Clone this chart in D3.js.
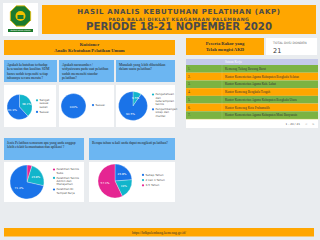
<!DOCTYPE html>
<html>
<head>
<meta charset="utf-8">
<script src="https://cdn.jsdelivr.net/npm/d3@7"></script>
<style>
  html, body { margin: 0; padding: 0; background: #e9ecef; }
  svg { display: block; }
</style>
</head>
<body>
<svg id="chart" width="320" height="240"></svg>
<script>
// question texts
const questions = [
  'Apakah kebutuhan terhadap kesesuaian dan kualitas SDM harus sudah terpenuhi setiap tahunnya secara merata ?',
  'Apakah narasumber / widyaiswara pada saat pelatihan sudah memenuhi standar pelatihan?',
  'Manakah yang lebih dibutuhkan dalam suatu pelatihan?',
  'Jenis Pelatihan semacam apa yang anda anggap lebih efektif kemanfaatan dan aplikasi ?',
  'Berapa tahun sekali anda dapat mengikuti pelatihan?'
];

// answers + counts (21 respondents)
const q1Labels = ['Sangat sesuai sekali', 'Sesuai'];
const q1Values = [8, 13];
const q1Colors = ['#12b5cb', '#1a73e8'];
const q2Labels = ['Sesuai'];
const q2Values = [21];
const q2Colors = ['#1a73e8'];
const q3Labels = ['Pengetahuan dan keterampilan teknis', 'Pengembangan sikap dan mental'];
const q3Values = [2, 19];
const q3Colors = ['#12b5cb', '#1a73e8'];
const q4Labels = ['Pelatihan Teknis Subs', 'Pelatihan Teknis Admin dan Manajemen', 'Pelatihan Di Tempat Kerja'];
const q4Values = [1, 5, 15];
const q4Colors = ['#e52592', '#12b5cb', '#1a73e8'];
const q5Labels = ['Setiap Tahun', '2 kali 1 Tahun', '3-5 Tahun'];
const q5Values = [5, 4, 12];
const q5Colors = ['#1a73e8', '#12b5cb', '#e52592'];

// participants table
const satkerRows = [
  'Kemenag Tulang Bawang Barat',
  'Kantor Kementerian Agama Kabupaten Bengkulu Selatan',
  'Kantor Kementerian Agama Kab. Lahat',
  'Kantor Kemenag Bengkulu Tengah',
  'Kantor Kementerian Agama Kabupaten Bengkulu Utara',
  'Kantor Kemenag Kota Prabumulih',
  'Kantor Kementerian Agama Kabupaten Musi Banyuasin'
];
const totalResponden = 21;

const svg = d3.select('#chart');
const orange = '#ffa600';
const serif = 'Liberation Serif, DejaVu Serif, serif';
const sans = 'DejaVu Sans, Liberation Sans, sans-serif';

// ---- header ----
svg.append('rect').attr('x', 3).attr('y', 3).attr('width', 35).attr('height', 33).attr('fill', '#fff');
const logo = svg.append('g').attr('transform', 'translate(20.5,16)');
logo.append('path')
  .attr('d', d3.range(8).map(i => {
    const a = i * Math.PI / 4 + Math.PI / 8;
    return (i ? 'L' : 'M') + (11 * Math.sin(a)).toFixed(2) + ',' + (-11 * Math.cos(a)).toFixed(2);
  }).join('') + 'Z')
  .attr('fill', '#1b7a2e').attr('stroke', '#f2c200').attr('stroke-width', 0.8);
logo.append('circle').attr('r', 5).attr('fill', '#f2c200');
logo.append('rect').attr('x', -3).attr('y', -1).attr('width', 6).attr('height', 4).attr('fill', '#1b7a2e');
svg.append('rect').attr('x', 8).attr('y', 29).attr('width', 25).attr('height', 3).attr('fill', '#1b7a2e');
svg.append('text').attr('x', 20.5).attr('y', 31.2).attr('text-anchor', 'middle')
  .attr('font-family', sans).attr('font-size', 1.8).attr('fill', '#fff').text('KEMENTERIAN AGAMA');

svg.append('rect').attr('x', 42).attr('y', 5).attr('width', 274).attr('height', 29).attr('fill', orange);
svg.append('text').attr('x', 179).attr('y', 14).attr('text-anchor', 'middle')
  .attr('font-family', sans).attr('font-weight', 'bold').attr('font-size', 7).attr('letter-spacing', 0.7)
  .attr('fill', '#4a4a4a').text('HASIL ANALIS KEBUTUHAN PELATIHAN (AKP)');
svg.append('text').attr('x', 179).attr('y', 20.5).attr('text-anchor', 'middle')
  .attr('font-family', sans).attr('font-weight', 'bold').attr('font-size', 4.6).attr('letter-spacing', 0.6)
  .attr('fill', '#4a4a4a').text('PADA BALAI DIKLAT KEAGAMAAN PALEMBANG');
svg.append('text').attr('x', 179).attr('y', 30).attr('text-anchor', 'middle')
  .attr('font-family', sans).attr('font-weight', 'bold').attr('font-size', 10.2)
  .attr('fill', '#4a4a4a').text('PERIODE 18-21 NOPEMBER 2020');

// ---- kuisioner title ----
svg.append('rect').attr('x', 4).attr('y', 40).attr('width', 171).attr('height', 15).attr('fill', orange);
svg.append('text').attr('x', 89.5).attr('y', 46).attr('text-anchor', 'middle')
  .attr('font-family', serif).attr('font-weight', 'bold').attr('font-size', 4.6).attr('fill', '#333').text('Kuisioner');
svg.append('text').attr('x', 89.5).attr('y', 52).attr('text-anchor', 'middle')
  .attr('font-family', serif).attr('font-weight', 'bold').attr('font-size', 4.6).attr('fill', '#333')
  .text('Analis Kebutuhan Pelatihan Umum');

function wrapLines(text, width, size, font) {
  const t = svg.append('text').attr('font-family', font).attr('font-size', size);
  const words = text.split(' ');
  const lines = [];
  let line = [];
  words.forEach(w => {
    line.push(w);
    t.text(line.join(' '));
    if (t.node().getComputedTextLength() > width && line.length > 1) {
      line.pop();
      lines.push(line.join(' '));
      line = [w];
    }
  });
  if (line.length) lines.push(line.join(' '));
  t.remove();
  return lines;
}

function questionBox(x, y, w, h, text) {
  svg.append('rect').attr('x', x).attr('y', y).attr('width', w).attr('height', h).attr('fill', '#6cb6f2');
  const lines = wrapLines(text, w - 6, 3.6, serif);
  lines.forEach((l, i) => {
    svg.append('text').attr('x', x + 3).attr('y', y + 6 + i * 4.3)
      .attr('font-family', serif).attr('font-size', 3.6).attr('fill', '#222').text(l);
  });
}

function piePanel(x, y, w, h, cx, cy, r, labels, values, colors, lx) {
  svg.append('rect').attr('x', x).attr('y', y).attr('width', w).attr('height', h).attr('fill', '#fff');
  const total = d3.sum(values);
  const arcs = d3.pie().sort(null)(values);
  const arc = d3.arc().innerRadius(0).outerRadius(r);
  const g = svg.append('g').attr('transform', `translate(${cx},${cy})`);
  g.selectAll('path').data(arcs).join('path')
    .attr('d', arc).attr('fill', (d, i) => colors[i]).attr('stroke', '#fff').attr('stroke-width', 0.3);
  const lab = d3.arc().innerRadius(r * 0.6).outerRadius(r * 0.6);
  g.selectAll('text').data(arcs.filter(d => d.value / total > 0.08)).join('text')
    .attr('transform', d => arcs.length === 1 ? 'translate(0,1)' : `translate(${lab.centroid(d)})`)
    .attr('text-anchor', 'middle').attr('dy', '0.35em')
    .attr('font-family', sans).attr('font-size', 2.8).attr('fill', '#fff')
    .text(d => {
      const p = d.value / total * 100;
      return (Math.round(p * 10) / 10) + '%';
    });
  // legend
  const blocks = labels.map(l => wrapLines(l, x + w - lx - 6, 2.8, sans));
  const lineH = 3.2;
  const totalH = d3.sum(blocks, b => b.length * lineH) + (blocks.length - 1) * 2;
  let yy = cy - totalH / 2 + 1.5;
  blocks.forEach((b, i) => {
    svg.append('circle').attr('cx', lx).attr('cy', yy - 0.8).attr('r', 1.1).attr('fill', colors[i]);
    b.forEach((l, j) => {
      svg.append('text').attr('x', lx + 2.5).attr('y', yy + j * lineH)
        .attr('font-family', sans).attr('font-size', 2.8).attr('fill', '#555').text(l);
    });
    yy += b.length * lineH + 2;
  });
}

// row 1
questionBox(4, 60, 53, 22, questions[0]);
questionBox(59, 60, 55, 22, questions[1]);
questionBox(116, 60, 59, 22, questions[2]);
piePanel(4, 85, 52, 42, 19.5, 107, 12.5, q1Labels, q1Values, q1Colors, 37);
piePanel(59, 85, 55, 42, 73.5, 106, 12.5, q2Labels, q2Values, q2Colors, 93);
piePanel(116, 85, 59, 42, 133, 106, 14.5, q3Labels, q3Values, q3Colors, 153);

// row 2
questionBox(4, 138, 80, 22, questions[3]);
questionBox(89, 138, 86, 22, questions[4]);
piePanel(4, 162, 80, 40, 27, 182, 17, q4Labels, q4Values, q4Colors, 54);
piePanel(89, 162, 86, 40, 115, 181, 17, q5Labels, q5Values, q5Colors, 143);

// ---- peserta panel ----
svg.append('rect').attr('x', 186).attr('y', 38).attr('width', 78).attr('height', 17).attr('fill', orange);
svg.append('text').attr('x', 225).attr('y', 45).attr('text-anchor', 'middle')
  .attr('font-family', serif).attr('font-weight', 'bold').attr('font-size', 4.6).attr('fill', '#333')
  .text('Peserta Rakor yang');
svg.append('text').attr('x', 225).attr('y', 51).attr('text-anchor', 'middle')
  .attr('font-family', serif).attr('font-weight', 'bold').attr('font-size', 4.6).attr('fill', '#333')
  .text('Telah mengisi AKD');
svg.append('rect').attr('x', 266).attr('y', 38).attr('width', 51).attr('height', 17).attr('fill', '#fff');
svg.append('text').attr('x', 273).attr('y', 44).attr('font-family', sans).attr('font-size', 3.2)
  .attr('fill', '#666').text('TOTAL DIISI DONDEN');
svg.append('text').attr('x', 273).attr('y', 52.5).attr('font-family', sans).attr('font-size', 6.5)
  .attr('fill', '#333').text(totalResponden);

// table
const tx = 186, tw = 132, colX = 222;
svg.append('rect').attr('x', tx).attr('y', 59).attr('width', tw).attr('height', 69).attr('fill', '#fff');
svg.append('rect').attr('x', tx).attr('y', 59).attr('width', tw).attr('height', 6).attr('fill', '#c5cae9');
svg.append('text').attr('x', colX + 3).attr('y', 63.2).attr('font-family', serif).attr('font-size', 3.2)
  .attr('fill', '#fff').text('Satuan Kerja');
const y = d3.scaleBand().domain(d3.range(satkerRows.length)).range([65, 119]);
const rows = svg.append('g').selectAll('g').data(satkerRows).join('g')
  .attr('transform', (d, i) => `translate(0,${y(i)})`);
rows.append('rect').attr('x', tx).attr('width', tw).attr('height', y.bandwidth())
  .attr('fill', (d, i) => i % 2 ? '#ffa600' : '#7cb342');
rows.append('line').attr('x1', colX).attr('x2', colX).attr('y2', y.bandwidth())
  .attr('stroke', '#fff').attr('stroke-opacity', 0.4).attr('stroke-width', 0.3);
rows.append('text').attr('x', tx + 2).attr('y', y.bandwidth() / 2 + 1.1)
  .attr('font-family', serif).attr('font-size', 3.2).attr('fill', '#333').text((d, i) => (i + 1) + '.');
rows.append('text').attr('x', colX + 3).attr('y', y.bandwidth() / 2 + 1.1)
  .attr('font-family', serif).attr('font-size', 3.2).attr('fill', '#333')
  .text(d => d)
  .each(function (d) {
    const el = d3.select(this);
    let s = d;
    while (this.getComputedTextLength() > tx + tw - colX - 6 && s.length > 3) {
      s = s.slice(0, -1);
      el.text(s.trim() + '...');
    }
  });
svg.append('line').attr('x1', tx).attr('x2', tx + tw).attr('y1', 119.4).attr('y2', 119.4)
  .attr('stroke', '#f0e6b0').attr('stroke-width', 0.8);
svg.append('text').attr('x', 300).attr('y', 125).attr('text-anchor', 'end')
  .attr('font-family', sans).attr('font-size', 2.8).attr('fill', '#555')
  .text('1 - 20 / ' + totalResponden);
svg.append('text').attr('x', 305).attr('y', 125).attr('font-family', sans).attr('font-size', 3)
  .attr('fill', '#aaa').text('<');
svg.append('text').attr('x', 312).attr('y', 125).attr('font-family', sans).attr('font-size', 3)
  .attr('fill', '#777').text('>');

// ---- footer ----
svg.append('rect').attr('x', 4).attr('y', 228).attr('width', 310).attr('height', 8.5).attr('fill', orange);
svg.append('text').attr('x', 159).attr('y', 233.5).attr('text-anchor', 'middle')
  .attr('font-family', serif).attr('font-size', 3.6).attr('fill', '#333')
  .text('https://bdkpalembang.kemenag.go.id/');
</script>
</body>
</html>
